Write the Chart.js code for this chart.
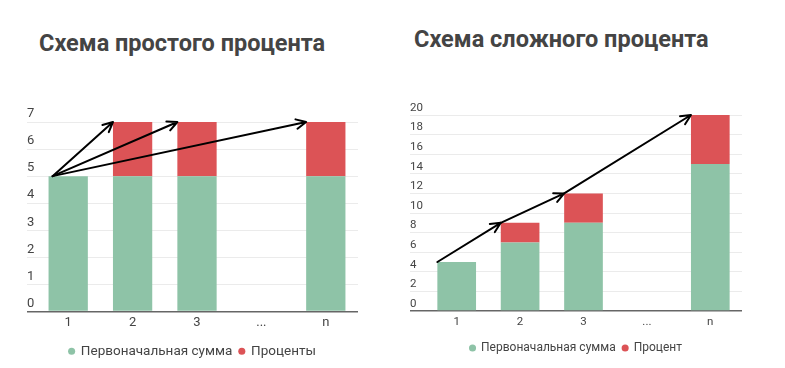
<!DOCTYPE html>
<html lang="ru">
<head>
<meta charset="utf-8">
<script src="https://cdn.jsdelivr.net/npm/chart.js@4.4.1/dist/chart.umd.min.js"></script>
<style>
  html, body { margin: 0; padding: 0; background: #fff; }
  body { width: 785px; height: 368px; position: relative; overflow: hidden; font-family: Roboto, sans-serif; }
  .titulo { position: absolute; margin: 0; font-size: 23.5px; font-weight: 700; color: #444; white-space: nowrap; }
  .caja { position: absolute; top: 60px; height: 308px; }
</style>
</head>
<body>
<h2 class="titulo" id="titulo-simple" style="left:39px; top:29px;">Схема простого процента</h2>
<h2 class="titulo" id="titulo-compuesto" style="left:414px; top:25px;">Схема сложного процента</h2>
<div class="caja" style="left:0; width:380px;"><canvas id="chart-simple"></canvas></div>
<div class="caja" style="left:390px; width:395px;"><canvas id="chart-compuesto"></canvas></div>
<script>
// ==================== DATOS ====================

const CATEGORIAS = ['1', '2', '3', '...', 'n'];

// Простой процент
const SIMPLE_SUMMA = [5, 5, 5, null, 5];
const SIMPLE_PROCENTY = [0, 2, 2, null, 2];
const SIMPLE_TICKS_MAX = 7;
const SIMPLE_TICKS_STEP = 1;
// pares de barras unidas por flechas
const SIMPLE_FLECHAS = [[0, 1], [0, 2], [0, 4]];

// Сложный процент
const COMPUESTO_SUMMA = [5, 7, 9, null, 15];
const COMPUESTO_PROCENTY = [0, 2, 3, null, 5];
const COMPUESTO_TICKS_MAX = 20;
const COMPUESTO_TICKS_STEP = 2;
const COMPUESTO_FLECHAS = [[0, 1], [1, 2], [2, 4]];

const COLOR_VERDE = '#8ec3a7';
const COLOR_ROJO = '#dc5356';

let chartSimple = null;
let chartCompuesto = null;

// ==================== PLUGIN FLECHAS ====================

function dibujarFlecha(ctx, x1, y1, x2, y2) {
  const ang = Math.atan2(y2 - y1, x2 - x1);
  const largo = 11;
  ctx.beginPath();
  ctx.moveTo(x1, y1);
  ctx.lineTo(x2, y2);
  ctx.moveTo(x2 - largo * Math.cos(ang - 0.45), y2 - largo * Math.sin(ang - 0.45));
  ctx.lineTo(x2, y2);
  ctx.lineTo(x2 - largo * Math.cos(ang + 0.45), y2 - largo * Math.sin(ang + 0.45));
  ctx.stroke();
}

const flechasPlugin = {
  id: 'flechas',
  afterDatasetsDraw(chart, args, opts) {
    const meta = chart.getDatasetMeta(0);
    const yScale = chart.scales.y;
    const ctx = chart.ctx;

    // esquina superior izquierda de la barra apilada
    const esquina = (i, desde) => {
      const bar = meta.data[i];
      let total = 0;
      chart.data.datasets.forEach(ds => { total += ds.data[i] || 0; });
      return {
        x: bar.x - bar.width / 2 + (desde ? opts.inicioX : 0),
        y: yScale.getPixelForValue(total)
      };
    };

    ctx.save();
    ctx.strokeStyle = '#000';
    ctx.lineWidth = 2;
    ctx.lineCap = 'round';
    ctx.lineJoin = 'round';
    opts.pares.forEach(([a, b]) => {
      const p1 = esquina(a, true);
      const p2 = esquina(b, false);
      dibujarFlecha(ctx, p1.x, p1.y, p2.x, p2.y);
    });
    ctx.restore();
  }
};

// ==================== GRÁFICOS ====================

function opcionesGrafico(cfg) {
  return {
    responsive: true,
    maintainAspectRatio: false,
    animation: false,
    layout: { padding: cfg.padding },
    datasets: {
      bar: { categoryPercentage: 1, barPercentage: 0.61 }
    },
    plugins: {
      legend: {
        display: true,
        position: 'bottom',
        labels: {
          usePointStyle: true,
          pointStyle: 'circle',
          boxWidth: 5,
          boxHeight: 5,
          padding: cfg.legendPadding,
          color: '#444',
          font: { family: 'Roboto', size: cfg.legendSize }
        }
      },
      tooltip: { enabled: false },
      flechas: { pares: cfg.flechas, inicioX: cfg.inicioX }
    },
    scales: {
      x: {
        stacked: true,
        grid: { display: false, drawTicks: false },
        border: { display: false },
        ticks: {
          color: '#444',
          padding: cfg.xPadding,
          font: { family: 'Roboto', size: cfg.tickSize }
        },
        afterFit: (scale) => { scale.height = cfg.xHeight; }
      },
      y: {
        stacked: true,
        min: 0,
        max: cfg.max,
        border: { display: false },
        grid: {
          drawTicks: true,
          tickLength: cfg.gutter,
          color: (c) => c.tick && c.tick.value === 0 ? '#666' : '#ebebeb',
          lineWidth: (c) => c.tick && c.tick.value === 0 ? 1.5 : 1
        },
        ticks: {
          stepSize: cfg.step,
          crossAlign: 'far',
          labelOffset: cfg.labelOffset,
          color: '#444',
          font: { family: 'Roboto', size: cfg.tickSize }
        },
        afterFit: (scale) => { scale.width = cfg.gutter; }
      }
    }
  };
}

function crearGraficoSimple() {
  const ctx = document.getElementById('chart-simple').getContext('2d');
  if (chartSimple) chartSimple.destroy();

  chartSimple = new Chart(ctx, {
    type: 'bar',
    data: {
      labels: CATEGORIAS,
      datasets: [
        { label: 'Первоначальная сумма', data: SIMPLE_SUMMA, backgroundColor: COLOR_VERDE },
        { label: 'Проценты', data: SIMPLE_PROCENTY, backgroundColor: COLOR_ROJO }
      ]
    },
    options: opcionesGrafico({
      padding: { left: 27, right: 22, top: 62, bottom: 0 },
      max: SIMPLE_TICKS_MAX,
      step: SIMPLE_TICKS_STEP,
      gutter: 9,
      labelOffset: -8,
      tickSize: 13,
      legendSize: 13.5,
      legendPadding: 7,
      xPadding: 3,
      xHeight: 26,
      inicioX: 4,
      flechas: SIMPLE_FLECHAS
    }),
    plugins: [flechasPlugin]
  });
}

function crearGraficoCompuesto() {
  const ctx = document.getElementById('chart-compuesto').getContext('2d');
  if (chartCompuesto) chartCompuesto.destroy();

  chartCompuesto = new Chart(ctx, {
    type: 'bar',
    data: {
      labels: CATEGORIAS,
      datasets: [
        { label: 'Первоначальная сумма', data: COMPUESTO_SUMMA, backgroundColor: COLOR_VERDE },
        { label: 'Процент', data: COMPUESTO_PROCENTY, backgroundColor: COLOR_ROJO }
      ]
    },
    options: opcionesGrafico({
      padding: { left: 20, right: 43, top: 55, bottom: 4 },
      max: COMPUESTO_TICKS_MAX,
      step: COMPUESTO_TICKS_STEP,
      gutter: 15,
      labelOffset: -7,
      tickSize: 11.5,
      legendSize: 12,
      legendPadding: 7,
      xPadding: 4,
      xHeight: 24,
      inicioX: 0,
      flechas: COMPUESTO_FLECHAS
    }),
    plugins: [flechasPlugin]
  });
}

crearGraficoSimple();
crearGraficoCompuesto();
</script>
</body>
</html>
